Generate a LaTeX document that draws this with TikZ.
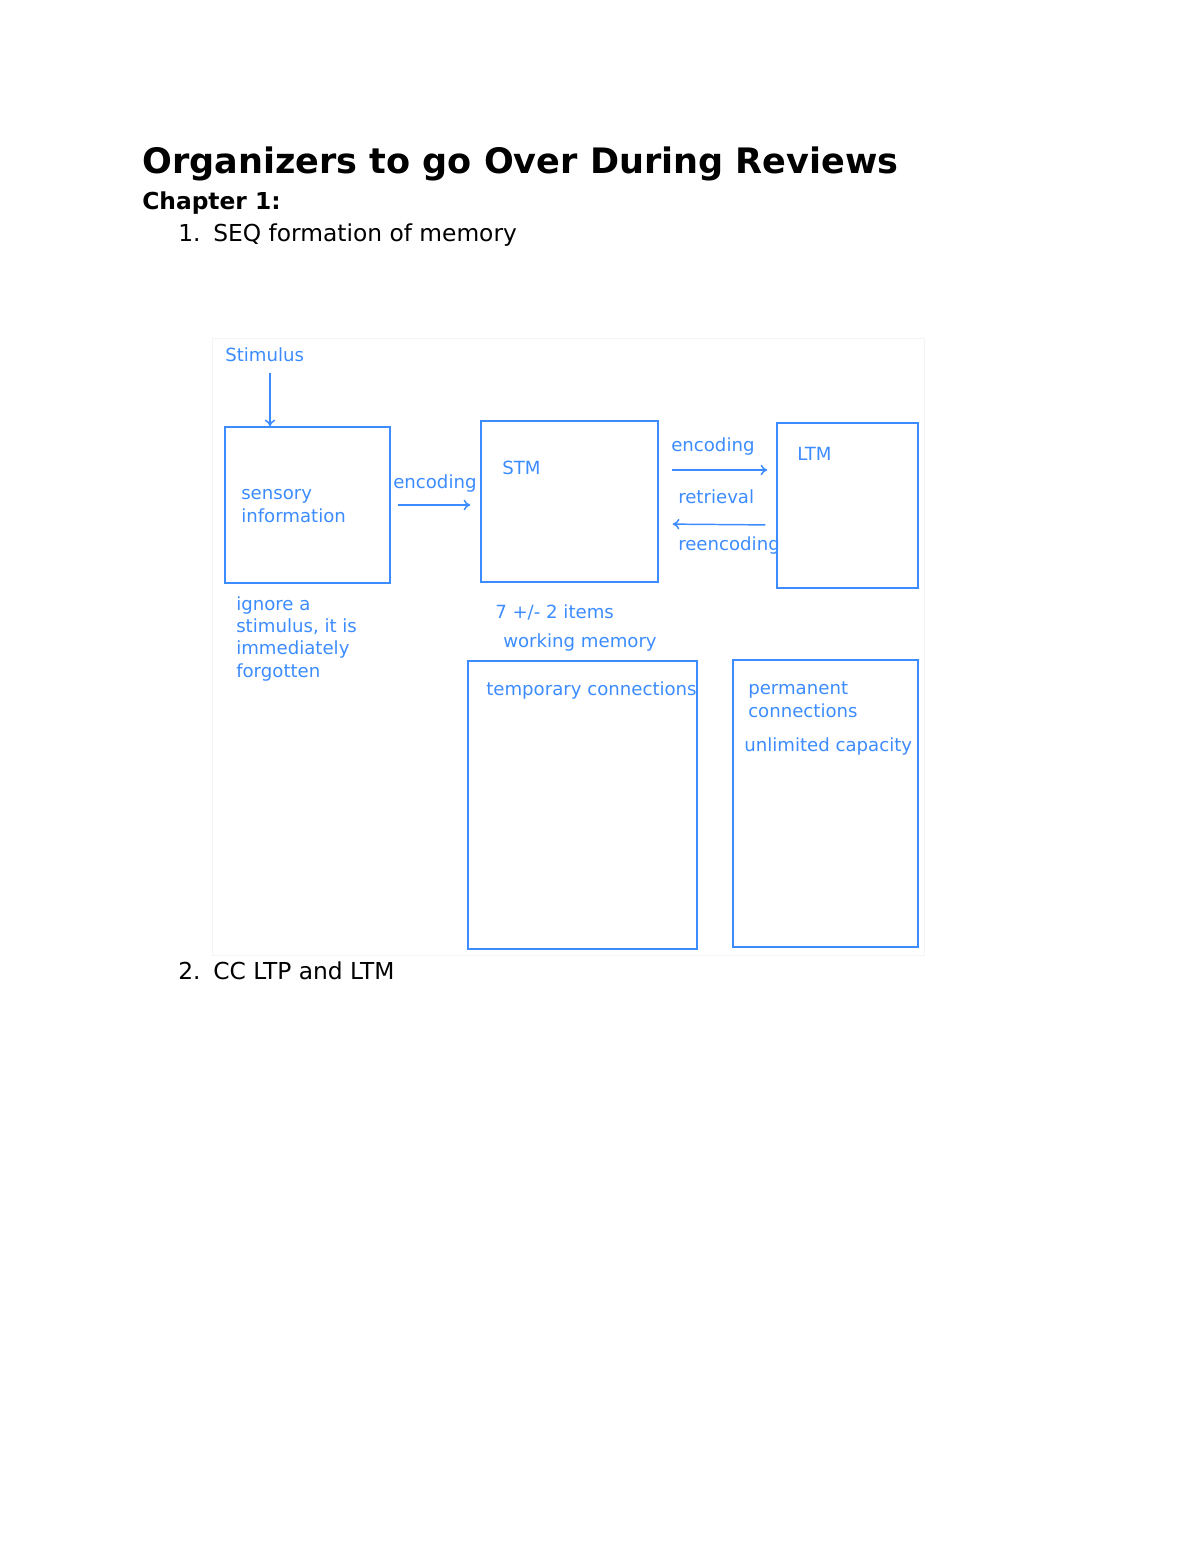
\documentclass[tikz,border=0pt]{standalone}
\usepackage{fontspec}
\setmainfont{DejaVu Sans}
\usepackage{tikz}
\usepackage{xcolor}
\usetikzlibrary{arrows.meta,positioning,calc,fit}
\definecolor{memblue}{RGB}{60,140,255}
\definecolor{framegray}{RGB}{244,244,246}
\newcommand{\diagfont}{\fontsize{13.6}{16.6}\selectfont}
\newcommand{\bodyfont}{\fontsize{17.5}{21}\selectfont}
\newcommand{\titlefont}{\fontsize{26.3}{30}\selectfont\bfseries}

\begin{document}
\begin{tikzpicture}[
    x=0.75pt, y=-0.75pt,
    >={To[length=5pt,width=8pt]},
    membox/.style={draw=memblue,line width=1.1pt,inner sep=0pt},
    memtext/.style={text=memblue,font=\diagfont,inner sep=0pt,anchor=base west,align=left},
    doctext/.style={inner sep=0pt,anchor=base west,font=\bodyfont},
    memarrow/.style={->,draw=memblue,line width=1.1pt}
]
\useasboundingbox (0,0) rectangle (1200,1553);

% Page text
\node[doctext,font=\titlefont] (title) at (142,173) {Organizers to go Over During Reviews};
\node[doctext,font=\bodyfont\bfseries] (chapter) at (142,209) {Chapter 1:};
\node[doctext] (item1) at (178,241) {1.\hspace{0.55em}SEQ formation of memory};
\node[doctext] (item2) at (178,979) {2.\hspace{0.55em}CC LTP and LTM};

% Picture frame
\draw[framegray,line width=0.75pt] (212,338) rectangle (924,955);

% Boxes
\node[membox,fit={(225,427) (390,583)}] (sensory) {};
\node[membox,fit={(481,421) (658,582)}] (stm) {};
\node[membox,fit={(777,423) (918,588)}] (ltm) {};
\node[membox,fit={(468,661) (697,949)}] (tempbox) {};
\node[membox,fit={(733,660) (918,947)}] (permbox) {};

% Labels (multi-line ones sit on their last line)
\node[memtext] (stimulus) at (225,361) {Stimulus};
\node[memtext] (sensorytxt) at (241,522) {sensory\\information};
\node[memtext] (enc1) at (393,488) {encoding};
\node[memtext] (stmtxt) at (502,474) {STM};
\node[memtext] (enc2) at (671,451) {encoding};
\node[memtext] (ltmtxt) at (797,460) {LTM};
\node[memtext] (retr) at (678,503) {retrieval};
\node[memtext] (reenc) at (678,550) {reencoding};
\node[memtext] (ignore) at (236,677) {ignore a\\stimulus, it is\\immediately\\forgotten};
\node[memtext] (items) at (495,618) {7 +/- 2 items};
\node[memtext] (working) at (503,647) {working memory};
\node[memtext] (temptxt) at (486,695) {temporary connections};
\node[memtext] (permtxt) at (748,717) {permanent\\connections};
\node[memtext] (unlim) at (744,751) {unlimited capacity};

% Connections
\coordinate (stimtail) at (270,373);
\draw[memarrow] (stimtail) -- (stimtail |- sensory.north);
\draw[memarrow,shorten <=5.25pt,shorten >=7.5pt] (sensory.east) -- (sensory.east -| stm.west);
\draw[memarrow,shorten <=9.75pt,shorten >=6.75pt] (stm.east |- 0,470) -- (ltm.west |- 0,470);
\draw[memarrow,shorten <=8.25pt,shorten >=10.5pt] (ltm.west |- 0,525) -- (stm.east |- 0,524);

\end{tikzpicture}
\end{document}
